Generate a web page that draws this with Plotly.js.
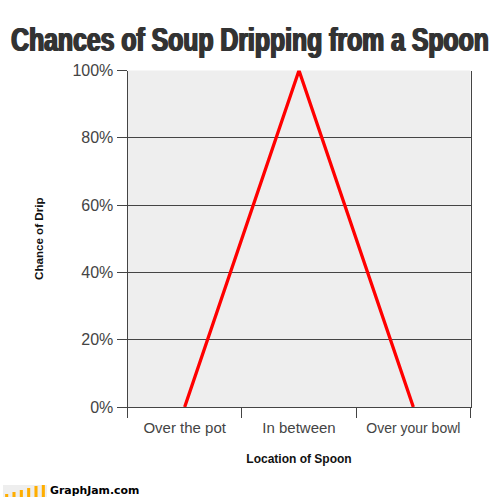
<!DOCTYPE html>
<html><head><meta charset="utf-8">
<script src="https://cdn.plot.ly/plotly-3.0.1.min.js"></script>
<style>html,body{margin:0;padding:0;background:#fff}#c{width:504px;height:497px}</style>
</head><body><div id="c"></div>
<script>
const categories = ["Over the pot", "In between", "Over your bowl"];
const categoryLabels = ["Over the pot", "In between", "<span style=\"font-size:14px\">Over your bowl</span>"];
const dripChance = [0, 100, 0];
const yTicks = [0, 20, 40, 60, 80, 100];
const yTickLabels = ["0%", "20%", "40%", "60%", "80%", "100%"];
const logoBars = [3, 5, 7, 9, 11, 12];
const logoIdx = [0, 1, 2, 3, 4, 5];
const W = 504, H = 497;
const sans = "Liberation Sans, Arial, sans-serif";
Plotly.newPlot("c", [
  {x: categories, y: dripChance, type: "scatter", mode: "lines", cliponaxis: false,
   line: {color: "#ff0000", width: 3.3}, hoverinfo: "skip"},
  {x: logoIdx, y: logoBars, type: "bar", xaxis: "x2", yaxis: "y2",
   marker: {color: "#ffae00"}, hoverinfo: "skip"}
], {
  width: W, height: H,
  margin: {l: 0, r: 0, t: 0, b: 0},
  paper_bgcolor: "#fff", plot_bgcolor: "#eeeeee",
  showlegend: false, bargap: 0.58,
  title: {text: "Chances of Soup Dripping from a Spoon", x: 250/W, xanchor: "center", y: 1-39/H, yanchor: "middle",
    font: {family: "Liberation Sans", size: 33, weight: 700, color: "#333333", shadow: "1px 0 0 #333333, -1px 0 0 #333333"}},
  xaxis: {domain: [127.5/W, 470.5/W], type: "category", categoryorder: "array", categoryarray: categories,
    tickmode: "array", tickvals: categories, ticktext: categoryLabels, ticklabelstandoff: 7,
    range: [-0.5, 2.5], tickson: "boundaries", ticks: "outside", ticklen: 10, tickwidth: 1, tickcolor: "#444",
    showgrid: false, showline: true, linecolor: "#444", linewidth: 1, mirror: false, zeroline: false,
    tickfont: {family: sans, size: 15, color: "#444"},
    title: {text: "Location of Spoon", standoff: 19, font: {family: sans, size: 12, weight: 700, color: "#111"}}},
  yaxis: {domain: [1-407/H, 1-70.5/H], range: [0, 100], tickvals: yTicks, ticktext: yTickLabels,
    ticks: "outside", ticklen: 10, tickwidth: 1, tickcolor: "#444", showgrid: true, gridcolor: "#444", gridwidth: 1,
    showline: true, linecolor: "#444", linewidth: 1, mirror: true, zeroline: false,
    tickfont: {family: sans, size: 16, color: "#444"},
    title: {text: "Chance of Drip", standoff: 26, font: {family: sans, size: 11.6, weight: 700, color: "#111"}}},
  xaxis2: {domain: [3/W, 47/W], range: [-0.5, 5.5], anchor: "y2", visible: false, fixedrange: true},
  yaxis2: {domain: [0, 12/H], range: [0, 12], anchor: "x2", visible: false, fixedrange: true},
  annotations: [{text: "<b>GraphJam.com</b>", xref: "paper", yref: "paper", x: 48/W, y: 1-490.5/H, xanchor: "left", yanchor: "middle", showarrow: false,
    font: {family: "DejaVu Sans", size: 10.9, color: "#000"}}]
}, {displayModeBar: false, staticPlot: true}).then(function (gd) {
  var t = gd.querySelector(".gtitle");
  if (t) {
    var w = t.getBBox().width, cx = 250, s = 478 / w;
    t.setAttribute("transform", "translate(" + cx + " 0) scale(" + s + " 1) translate(" + (-cx) + " 0)");
  }
});
</script></body></html>
